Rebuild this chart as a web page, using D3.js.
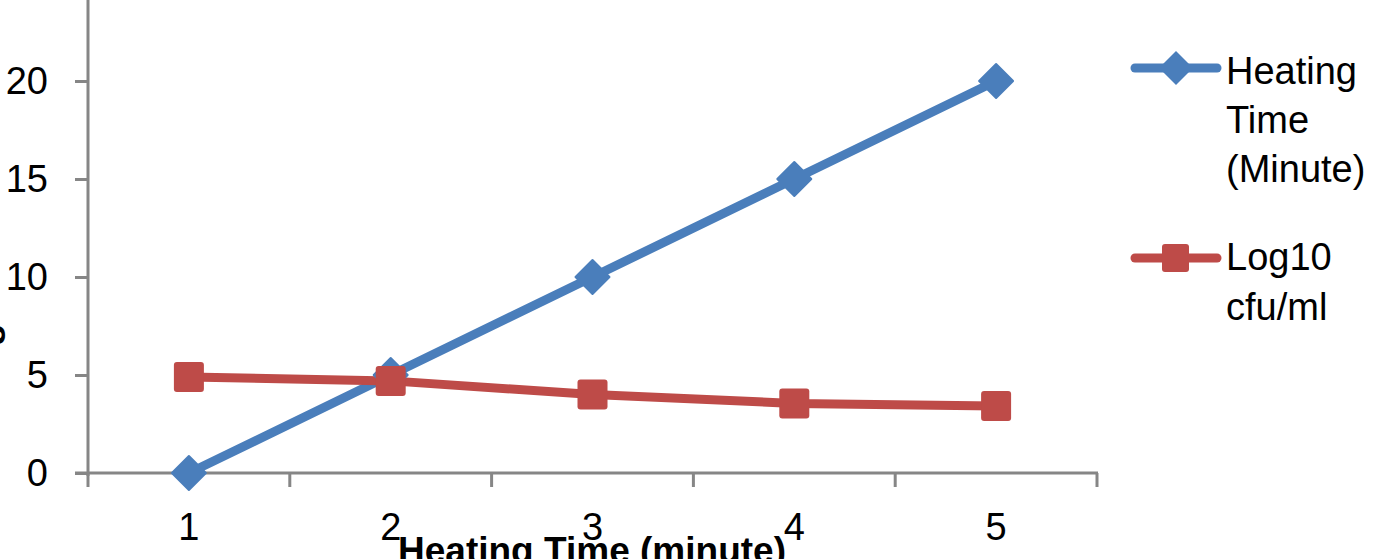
<!DOCTYPE html>
<html><head><meta charset="utf-8">
<script src="https://cdn.jsdelivr.net/npm/d3@7"></script>
<style>
html,body{margin:0;padding:0;background:#fff;overflow:hidden}
text{font-family:"Liberation Sans",Arial,sans-serif;fill:#000}
</style></head><body>
<svg id="c" width="1387" height="559"></svg>
<script>
const categories = ["1","2","3","4","5"];
const heatingTime = [0, 5, 10, 15, 20];
const logCfu = [4.9, 4.7, 4.0, 3.55, 3.42];
const yTicks = [0, 5, 10, 15, 20];
const seriesNames = [["Heating","Time","(Minute)"],["Log10","cfu/ml"]];
const xTitle = "Heating Time (minute)";
const yTitle = "Log10 cfu/ml";

const svg = d3.select("#c");
const blue = "#4A7EBB", red = "#BE4B48", axisCol = "#868686";

const x = d3.scaleBand().domain(categories).range([88, 1097]);
const y = d3.scaleLinear().domain([0, 25]).range([473, -17]);

// axes
const gy = svg.append("g").attr("transform","translate(88,0)")
  .call(d3.axisLeft(y).tickValues(yTicks).tickSize(13).tickPadding(27).tickFormat(d3.format("d")));
const gx = svg.append("g").attr("transform","translate(0,473)")
  .call(d3.axisBottom(x).tickSize(14).tickPadding(26));
[gy,gx].forEach(g=>{
  g.select(".domain").attr("stroke",axisCol).attr("stroke-width",3);
  g.selectAll(".tick line").attr("stroke",axisCol).attr("stroke-width",3);
  g.selectAll("text").attr("font-size",38).attr("fill","#000")
   .style("font-family",'"Liberation Sans",Arial,sans-serif');
});
// extend x axis left & x ticks at band boundaries
gx.select(".domain").attr("d","M75,0H1098");
gx.selectAll(".tick line").remove();
const bounds = categories.map(c=>x(c)).concat([x.range()[1]]);
gx.selectAll(".bt").data(bounds).enter().append("line")
  .attr("x1",d=>d).attr("x2",d=>d).attr("y1",0).attr("y2",14)
  .attr("stroke",axisCol).attr("stroke-width",3);
gy.select(".domain").attr("d","M0,-20V476");
gx.selectAll(".tick text").attr("dy","0.71em");

// axis titles
svg.append("text").attr("x",592).attr("y",563).attr("text-anchor","middle")
  .attr("font-weight","bold").attr("font-size",37).attr("textLength",388)
  .text(xTitle);
svg.append("text").attr("transform","translate(-3,277) rotate(-90)")
  .attr("text-anchor","middle").attr("font-weight","bold").attr("font-size",37)
  .text(yTitle);

const cx = d => x(d) + x.bandwidth()/2;
const line = d3.line().x((d,i)=>cx(categories[i])).y(d=>y(d));

svg.append("path").datum(heatingTime).attr("d",line).attr("fill","none")
  .attr("stroke",blue).attr("stroke-width",9).attr("stroke-linejoin","round").attr("stroke-linecap","round");
svg.append("path").datum(logCfu).attr("d",line).attr("fill","none")
  .attr("stroke",red).attr("stroke-width",9).attr("stroke-linejoin","round").attr("stroke-linecap","round");

const diamond = (px,py,r) => `M${px},${py-r}L${px+r},${py}L${px},${py+r}L${px-r},${py}Z`;
svg.selectAll(".dm").data(heatingTime).enter().append("path")
  .attr("d",(d,i)=>diamond(cx(categories[i]), y(d), 17))
  .attr("fill",blue).attr("stroke",blue).attr("stroke-width",2).attr("stroke-linejoin","round");
svg.selectAll(".sq").data(logCfu).enter().append("rect")
  .attr("x",(d,i)=>cx(categories[i])-15).attr("y",d=>y(d)-15)
  .attr("width",30).attr("height",30).attr("rx",3)
  .attr("fill",red);

// legend
const lg = svg.append("g");
lg.append("line").attr("x1",1135).attr("x2",1217).attr("y1",68).attr("y2",68)
  .attr("stroke",blue).attr("stroke-width",9).attr("stroke-linecap","round");
lg.append("path").attr("d",diamond(1176,68,17)).attr("fill",blue);
lg.append("line").attr("x1",1135).attr("x2",1217).attr("y1",258).attr("y2",258)
  .attr("stroke",red).attr("stroke-width",9).attr("stroke-linecap","round");
lg.append("rect").attr("x",1162).attr("y",244).attr("width",27).attr("height",28).attr("rx",3).attr("fill",red);
const lgY = [[84,133,182],[270,320]];
seriesNames.forEach((lines,si)=>{
  lines.forEach((t,li)=>{
    lg.append("text").attr("x",1226).attr("y",lgY[si][li]).attr("font-size",38).text(t);
  });
});
</script></body></html>
